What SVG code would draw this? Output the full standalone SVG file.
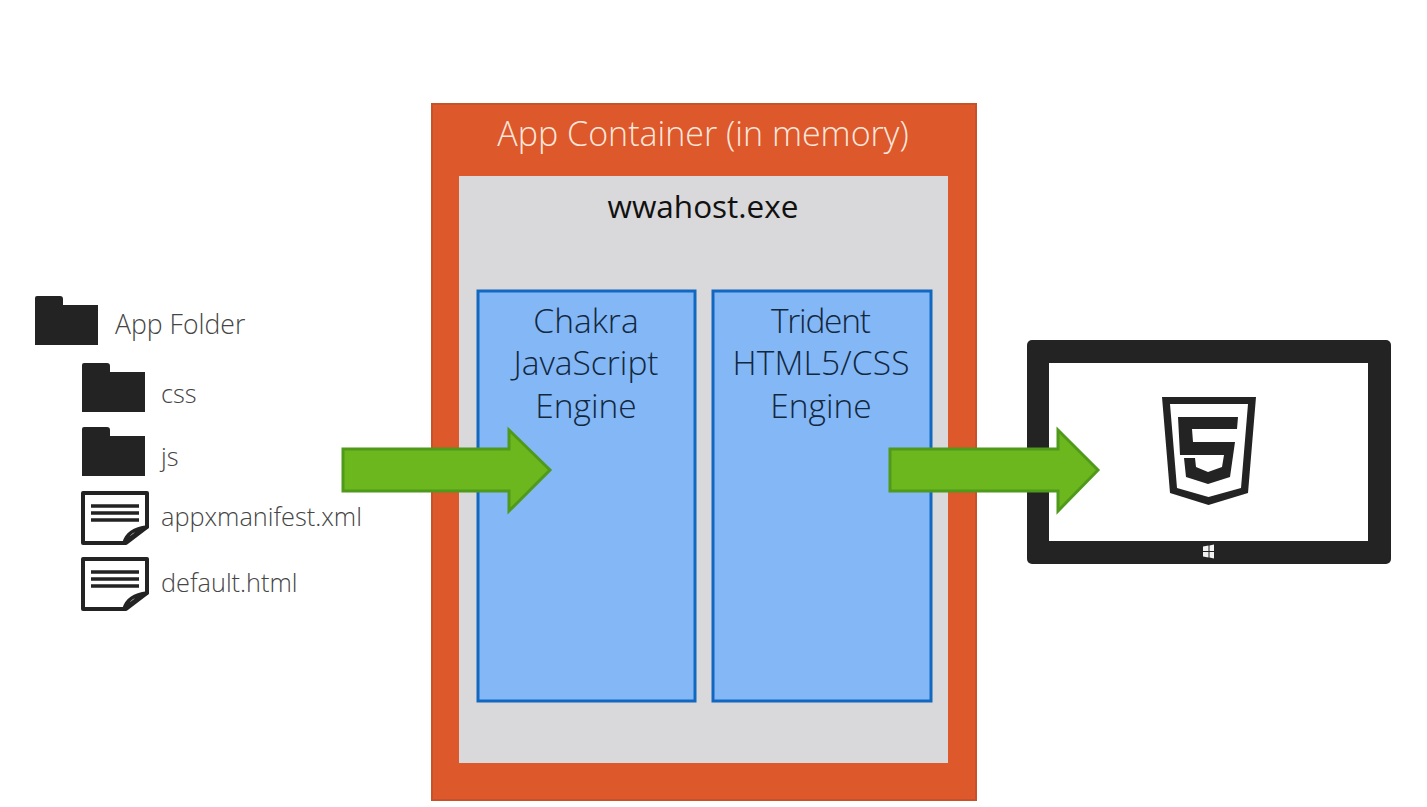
<svg xmlns="http://www.w3.org/2000/svg" width="1427" height="807" viewBox="0 0 1427 807">
<style>
text{font-family:"Open Sans","Noto Sans","Liberation Sans",sans-serif;font-weight:300}
.c{text-anchor:middle}
.blue{fill:#84b7f5;stroke:#1268c0;stroke-width:3}
.eng{font-size:33.500px;fill:#12283f}
.lab{font-size:25.300px;fill:#454545}
.dark{fill:#232323}
.arrow{fill:#6db71e;stroke:#4f9a1b;stroke-width:3}
.doc{fill:#fff;stroke:#232323;stroke-width:4;stroke-linejoin:round}
.ln{stroke:#232323;stroke-width:3.500}
</style>
<defs>
<path id="folder" d="M0 2Q0 0 2 0H25Q28 0 28 3V9H63V49H0Z"/>
<g id="docicon">
<path class="doc" d="M2 2H66V36L45 52H2Z"/>
<path d="M43 52Q47 38 66 36Q60 38 56 42Z" fill="#fff" stroke="#232323" stroke-width="3.500" stroke-linejoin="round"/>
<path class="ln" d="M10 15H58M10 22H58M10 29H58" fill="none"/>
</g>
</defs>
<rect width="1427" height="807" fill="#fff"/>
<g id="app-container">
<rect x="432" y="104" width="544" height="696" fill="#dd582b" stroke="#c9512a" stroke-width="2"/>
<text class="c" x="703" y="146" font-size="34" fill="#fbe6db">App Container (in memory)</text>
</g>
<g id="wwahost">
<rect x="459" y="176" width="489" height="587" fill="#d9d8da"/>
<text class="c" x="703" y="218" font-size="31.500" fill="#111" style="font-weight:400">wwahost.exe</text>
</g>
<g id="chakra">
<rect class="blue" x="478" y="291" width="217" height="410"/>
<text class="c eng" x="586" y="333">Chakra</text>
<text class="c eng" x="586" y="375">JavaScript</text>
<text class="c eng" x="586" y="418">Engine</text>
</g>
<g id="trident">
<rect class="blue" x="713" y="291" width="218" height="410"/>
<text class="c eng" x="821" y="333" textLength="100" lengthAdjust="spacing">Trident</text>
<text class="c eng" x="821" y="375" textLength="177" lengthAdjust="spacing">HTML5/CSS</text>
<text class="c eng" x="821" y="418">Engine</text>
</g>
<g id="app-folder">
<use href="#folder" class="dark" x="35" y="296"/>
<text class="lab" x="115" y="334" style="font-size:26.600px">App Folder</text>
</g>
<g id="css-folder">
<use href="#folder" class="dark" x="82" y="363"/>
<text class="lab" x="161" y="403">css</text>
</g>
<g id="js-folder">
<use href="#folder" class="dark" x="82" y="427"/>
<text class="lab" x="161" y="466">js</text>
</g>
<g id="appxmanifest">
<use href="#docicon" x="81" y="491"/>
<text class="lab" x="161" y="526">appxmanifest.xml</text>
</g>
<g id="default-html">
<use href="#docicon" x="81" y="557"/>
<text class="lab" x="161" y="592">default.html</text>
</g>
<g id="tablet">
<rect x="1027" y="340" width="364" height="224" rx="5" fill="#232323"/>
<rect x="1049" y="363" width="319" height="178" fill="#fff"/>
<path d="M1162 397H1256L1248 493L1208.500 505L1170 493Z" fill="#232323"/>
<path d="M1170 404H1248L1241 488L1208.500 497L1177 488Z" fill="#fff"/>
<path d="M1178 417H1238L1237 429H1192L1193 442H1235L1230 477L1208 484L1186 477L1184 458H1195L1196 467L1208 472L1222 467L1224 455H1180Z" fill="#232323"/>
<path d="M1203 546.500L1208.500 545.500V551H1203ZM1209.500 545.400L1214 544.500V551H1209.500ZM1203 552H1208.500V557.500L1203 556.500ZM1209.500 552H1214V558.500L1209.500 557.600Z" fill="#f2f2f2"/>
</g>
<g id="connectors">
<path class="arrow" d="M343 449H509V430L550 470L509 511V491H343Z"/>
<path class="arrow" d="M890 449H1058V430L1098 470L1058 511V491H890Z"/>
</g>
</svg>
